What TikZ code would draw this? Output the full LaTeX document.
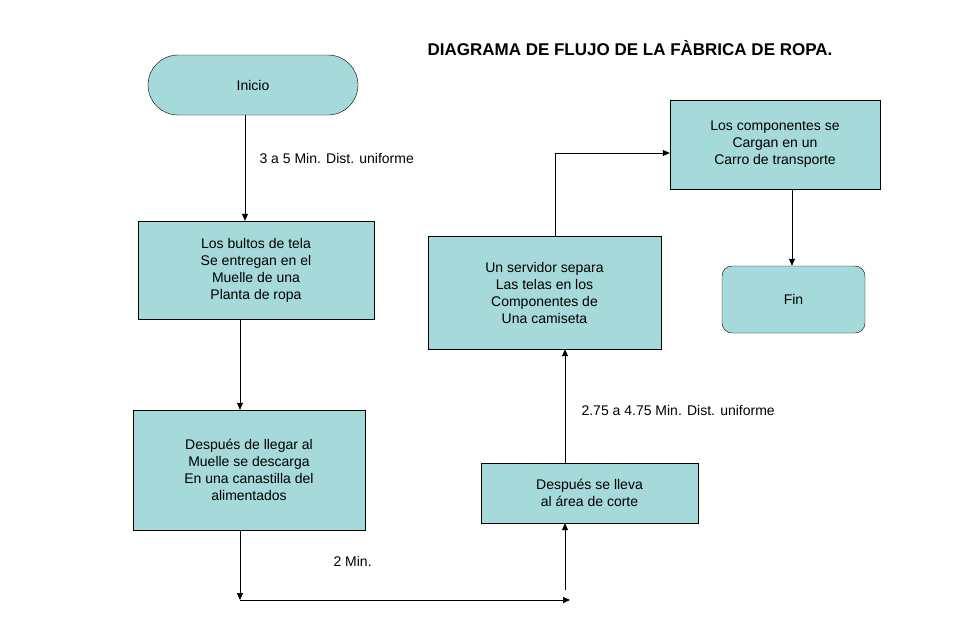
\documentclass[tikz,border=0pt]{standalone}
\usepackage{fontspec}
\setmainfont{Liberation Sans}
\usetikzlibrary{arrows.meta}
\definecolor{boxfill}{HTML}{A6D9D9}
\begin{document}
\begin{tikzpicture}[x=1pt,y=-1pt,
  box/.style={draw,fill=boxfill,align=center,font=\fontsize{14}{17}\selectfont,inner sep=0pt},
  lbl/.style={font=\fontsize{14}{17}\selectfont,anchor=west},
  arr/.style={-{Triangle[length=7pt,width=6pt]},line width=0.7pt}]
\useasboundingbox (0,0) rectangle (960,630);
\node[font=\bfseries\fontsize{17}{20}\selectfont] (title) at (630,48) {DIAGRAMA DE FLUJO DE LA FÀBRICA DE ROPA.};
\node[box,rounded corners=30pt,minimum width=210pt,minimum height=60pt] (inicio) at (253,85) {Inicio};
\node[box,minimum width=236pt,minimum height=98pt] (b1) at (256,270) {Los bultos de tela\\Se entregan en el\\Muelle de una\\Planta de ropa};
\node[box,minimum width=232pt,minimum height=120pt] (b2) at (249,470) {Después de llegar al\\Muelle se descarga\\En una canastilla del\\alimentados};
\node[box,minimum width=217pt,minimum height=60pt] (b3) at (589.5,493) {Después se lleva\\al área de corte};
\node[box,minimum width=233pt,minimum height=113pt] (b4) at (544.5,292.5) {Un servidor separa\\Las telas en los\\Componentes de\\Una camiseta};
\node[box,minimum width=210pt,minimum height=89pt] (b5) at (775,144.5) {Los componentes se\\Cargan en un\\Carro de transporte};
\node[box,rounded corners=10pt,minimum width=143pt,minimum height=67pt] (fin) at (793.5,299.5) {Fin};
\node[lbl] (l1) at (256,158) {3 a 5 Min. Dist. uniforme};
\node[lbl] (l2) at (330,561) {2 Min.};
\node[lbl] (l3) at (578,410) {2.75 a 4.75 Min. Dist. uniforme};
\coordinate (c1) at (240,600);
\coordinate (c2) at (570,600);
\coordinate (c3) at (565,590);
\coordinate (c4) at (555,153);
\draw[arr] (inicio.south -| 245,0) -- (b1.north -| 245,0);
\draw[arr] (b1.south -| c1) -- (b2.north -| c1);
\draw[arr] (b2.south -| c1) -- (c1);
\draw[arr] (c1) -- (c2);
\draw[arr] (c3) -- (b3.south -| c3);
\draw[arr] (b3.north -| c3) -- (b4.south -| c3);
\draw[arr] (b4.north -| c4) -- (c4) -- (b5.west |- c4);
\draw[arr] (b5.south -| 792,0) -- (fin.north -| 792,0);
\end{tikzpicture}
\end{document}
